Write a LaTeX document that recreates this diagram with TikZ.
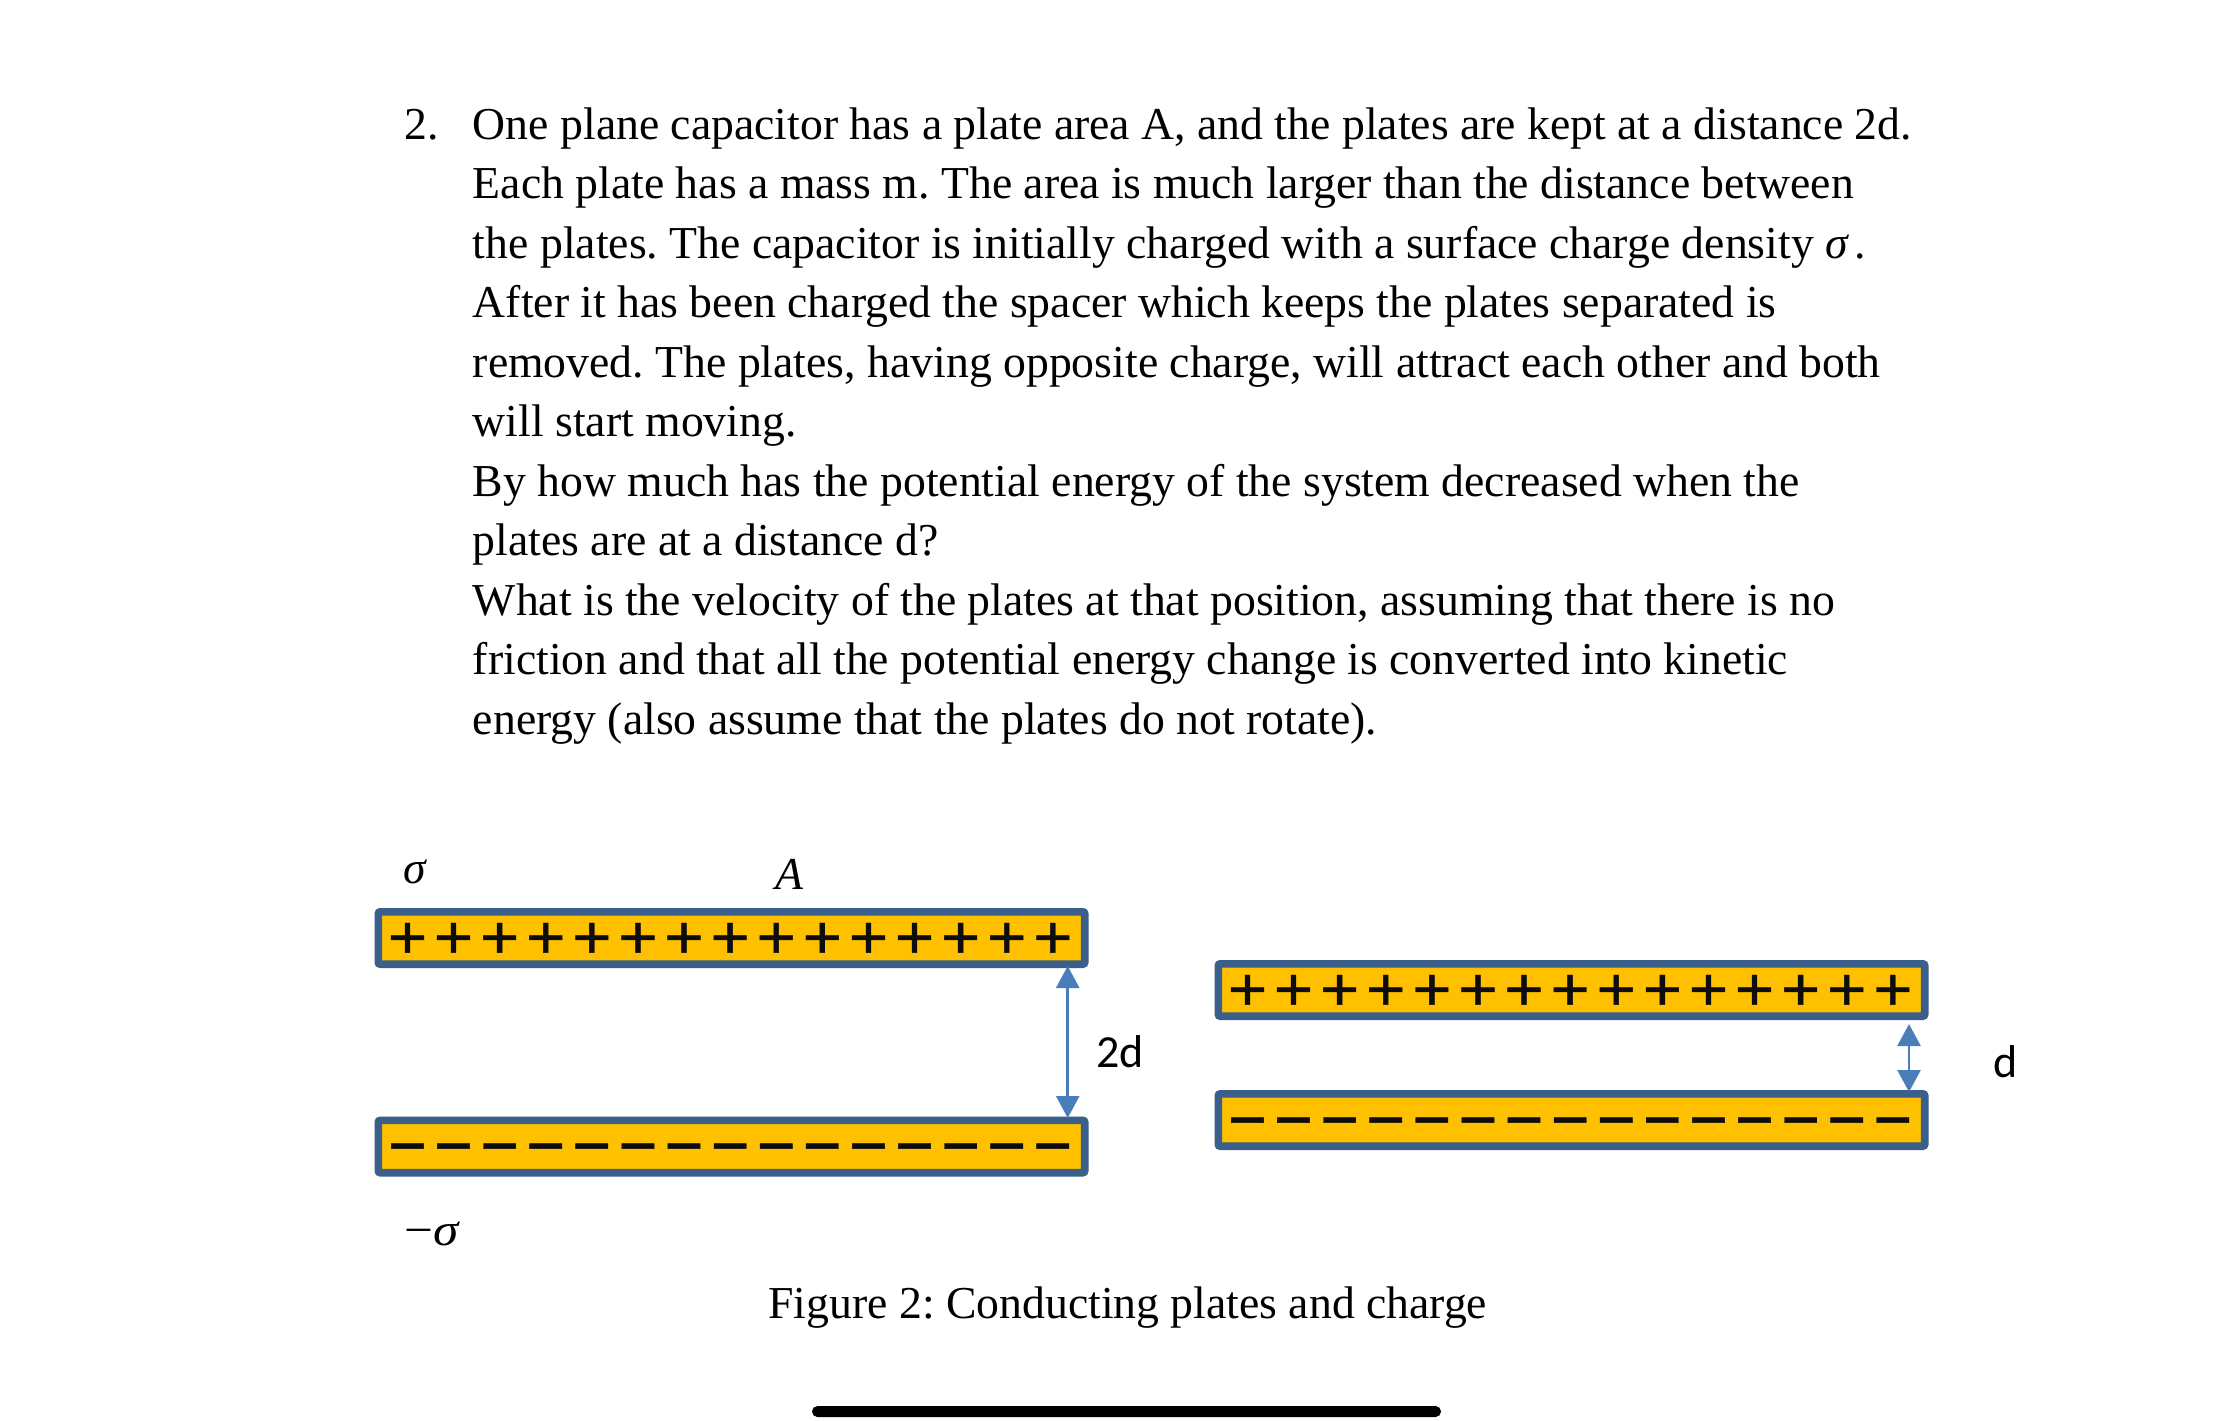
\documentclass[tikz,border=0pt]{standalone}
\usepackage{fontspec}
\usepackage{graphicx}
\setmainfont{Liberation Serif}
\newfontfamily\labelfont{Carlito}
\newfontfamily\chargefont[FakeBold=0.7]{Liberation Sans}
\usetikzlibrary{arrows.meta}
\definecolor{platefill}{HTML}{FFC000}
\definecolor{plateedge}{HTML}{3A5F8B}
\definecolor{arrowblue}{HTML}{4A7EBB}
\newcommand\onecharge[1]{\makebox[23.05pt]{#1}}
\newcommand\plusrow{\foreach \i in {1,...,15}{\onecharge{\scalebox{1.02}[.92]{+}}}}
\newcommand\minusrow{\foreach \i in {1,...,15}{\onecharge{\scalebox{.88}[1.1]{–}}}}
\tikzset{
  textline/.style={anchor=base west,inner sep=0pt,font=\fontsize{22.85}{26}\selectfont\frenchspacing},
  platebox/.style={draw=plateedge,fill=platefill,line width=3.8pt,minimum width=353.2pt,minimum height=26.2pt,inner sep=0pt,rounded corners=1pt},
  chargetext/.style={anchor=base west,inner sep=0pt,font=\chargefont\fontsize{33}{36}\selectfont,text=black!95},
  gaparrow/.style={draw=arrowblue,line width=1.25pt,{Triangle[length=11pt,width=11.5pt]}-{Triangle[length=11pt,width=11.5pt]},shorten <=0pt,shorten >=0pt},
  dimlabel/.style={anchor=base west,inner sep=0pt,font=\labelfont\fontsize{23}{26}\selectfont},
  homebar/.style={fill=black,rounded corners=2.7pt,draw=none}
}
\begin{document}
\begin{tikzpicture}[x=0.5pt,y=-0.5pt]
\useasboundingbox (0,0) rectangle (2222,1420);
\fill[white] (0,0) rectangle (2222,1420);
\node[textline] (num) at (404,139) {2.};
\node[textline] (l1) at (472.5,139) {One plane capacitor has a plate area A, and the plates are kept at a distance 2d.};
\node[textline] (l2) at (472.5,198.5) {Each plate has a mass m. The area is much larger than the distance between};
\node[textline] (l3) at (472.5,258) {the plates. The capacitor is initially charged with a surface charge density \textit{σ}\kern2.5pt.};
\node[textline] (l4) at (472.5,317.5) {After it has been charged the spacer which keeps the plates separated is};
\node[textline] (l5) at (472.5,377) {removed. The plates, having opposite charge, will attract each other and both};
\node[textline] (l6) at (472.5,436.5) {will start moving.};
\node[textline] (l7) at (472.5,496) {By how much has the potential energy of the system decreased when the};
\node[textline] (l8) at (472.5,555.5) {plates are at a distance d?};
\node[textline] (l9) at (472.5,615) {What is the velocity of the plates at that position, assuming that there is no};
\node[textline] (l10) at (472.5,674.5) {friction and that all the potential energy change is converted into kinetic};
\node[textline] (l11) at (472.5,734) {energy (also assume that the plates do not rotate).};
\node[platebox] (p1) at (731.5,938) {};
\node[platebox] (p2) at (731.5,1146.5) {};
\node[platebox] (p3) at (1571.5,990) {};
\node[platebox] (p4) at (1571.5,1120) {};
\node[chargetext] (r1) at (384,958) {\plusrow};
\node[chargetext] (r2) at (384,1164.5) {\minusrow};
\node[chargetext] (r3) at (1224,1010) {\plusrow};
\node[chargetext] (r4) at (1224,1138.5) {\minusrow};
\node[textline] (sig) at (403,883) {\textit{σ}};
\node[textline] (areaA) at (775,889) {\textit{A}};
\node[textline] (msig) at (404,1245) {\scalebox{1.12}[1]{−\textit{σ}}};
\node[dimlabel] (twod) at (1096,1067) {2d};
\node[dimlabel] (oned) at (1993,1077) {d};
\coordinate (a1) at (1067.7,966);
\coordinate (b1) at (1067.7,1118);
\coordinate (a2) at (1909,1024);
\coordinate (b2) at (1909,1092);
\draw[gaparrow] (a1) -- (b1);
\draw[gaparrow] (a2) -- (b2);
\node[textline] (cap) at (768,1318) {Figure 2: Conducting plates and charge};
\fill[homebar] (812,1406) rectangle (1441,1417);
\end{tikzpicture}
\end{document}
